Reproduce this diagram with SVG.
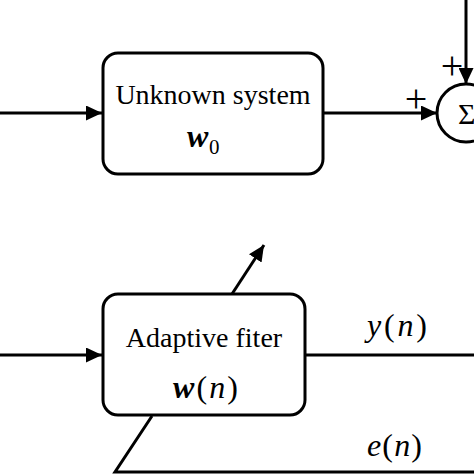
<svg xmlns="http://www.w3.org/2000/svg" width="474" height="474" viewBox="0 0 474 474">
<defs>
<marker id="ah" markerUnits="userSpaceOnUse" markerWidth="17" markerHeight="15" refX="16" refY="7.5" orient="auto">
<path d="M0,0 L16,7.5 L0,15 Z" fill="#000"/>
</marker>
<style>
.ln{stroke:#000;stroke-width:3;fill:none}
.box{stroke:#000;stroke-width:3;fill:#fff}
.t{font-family:"Liberation Serif","Times New Roman",serif;font-size:28px;fill:#000}
.m{font-size:32px}
.it{font-style:italic}
.bi{font-style:italic;font-weight:bold}
.pl{font-size:40px}
</style>
</defs>
<rect width="474" height="474" fill="#fff"/>
<g id="connectors">
<line class="ln" x1="0" y1="113" x2="102" y2="113" marker-end="url(#ah)"/>
<line class="ln" x1="323" y1="113" x2="437" y2="113" marker-end="url(#ah)"/>
<line class="ln" x1="466" y1="0" x2="466" y2="84" marker-end="url(#ah)"/>
<line class="ln" x1="0" y1="355" x2="102" y2="355" marker-end="url(#ah)"/>
<line class="ln" x1="305" y1="355" x2="474" y2="355"/>
<polyline class="ln" points="474,472 115,472 152,416"/>
<line class="ln" x1="232" y1="294" x2="264" y2="245" marker-end="url(#ah)"/>
</g>
<g id="unknown-system">
<rect class="box" x="103" y="53" width="220" height="121" rx="15"/>
<text class="t" x="213" y="104" text-anchor="middle">Unknown system</text>
<text class="t m bi" x="187" y="147">w</text>
<text class="t" x="209" y="154" style="font-size:21px">0</text>
</g>
<g id="sum">
<circle class="box" cx="466" cy="113" r="29"/>
<text class="t" x="458" y="124" style="font-size:30px">Σ</text>
<text class="t pl" x="452" y="79" text-anchor="middle">+</text>
<text class="t pl" x="416" y="112" text-anchor="middle">+</text>
</g>
<g id="adaptive-filter">
<rect class="box" x="103" y="294" width="202" height="121" rx="15"/>
<text class="t" x="204" y="347" text-anchor="middle">Adaptive fiter</text>
<text class="t m" x="173" y="398" textLength="65" lengthAdjust="spacing"><tspan class="bi">w</tspan>(<tspan class="it">n</tspan>)</text>
</g>
<g id="labels">
<text class="t m" x="367" y="336" textLength="60" lengthAdjust="spacing"><tspan class="it">y</tspan>(<tspan class="it">n</tspan>)</text>
<text class="t m" x="367" y="456" textLength="55" lengthAdjust="spacing"><tspan class="it">e</tspan>(<tspan class="it">n</tspan>)</text>
</g>
</svg>
